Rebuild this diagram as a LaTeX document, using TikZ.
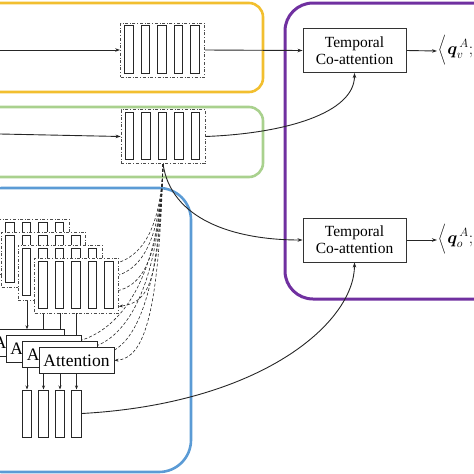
\documentclass[tikz,border=0pt]{standalone}
\usepackage{fontspec}
\setmainfont{Liberation Serif}
\usepackage{bm}
\usetikzlibrary{arrows.meta}
\pgfdeclarelayer{bg}
\pgfdeclarelayer{mid}
\pgfsetlayers{bg,mid,main}
\definecolor{ylw}{HTML}{F2BF2F}
\definecolor{grn}{HTML}{A9D18E}
\definecolor{blu}{HTML}{5B9BD5}
\definecolor{prp}{HTML}{7030A0}
\begin{document}
\begin{tikzpicture}[x=1pt,y=-1pt,
 >={Stealth[length=5pt,width=3.5pt]},
 regionframe/.style={rounded corners=#1, line width=2.6pt},
 conn/.style={line width=0.9pt, draw=black!85},
 thinconn/.style={line width=0.7pt, draw=black!85, -{Stealth[length=4pt,width=3pt]}},
 dbox/.style={draw=black!70, dash dot, line width=0.8pt, fill=white, minimum width=84pt, minimum height=54pt, inner sep=0pt},
 barr/.style={draw=black!85, line width=1pt, fill=white},
 tbox/.style={draw=black!80, line width=0.9pt, fill=white, align=center, minimum width=103pt, minimum height=44pt, inner sep=2pt, font=\fontsize{15.5}{17}\selectfont},
 abox/.style={draw=black!85, line width=0.9pt, fill=white, minimum width=75pt, minimum height=26.5pt, inner sep=0pt, font=\fontsize{17.5}{19}\selectfont},
 qtext/.style={anchor=west, inner sep=1pt, font=\fontsize{18}{20}\selectfont},
 fanline/.style={densely dashed, line width=0.6pt, draw=black!85, -{Stealth[length=4pt,width=3pt]}}
]
\useasboundingbox (0,0) rectangle (474,474);

% ---------- nodes ----------
\node[dbox] (yb) at (162.5,50) {};
\node[dbox] (gb) at (163,136.5) {};
\foreach \b in {yb,gb}
  \foreach \i in {0,...,4}
    \draw[barr] ([xshift={4.5pt+16.5pt*\i}, yshift=-3pt]\b.north west) rectangle ++(8.5,47.5);

\node[tbox] (t1) at (354.5,50.5) {Temporal\\Co-attention};
\node[tbox] (t2) at (354.5,240) {Temporal\\Co-attention};

\node[qtext] (q1) at (437,51) {$\left\langle\vphantom{\rule[-13pt]{0pt}{30pt}}\right.\!\bm{q}_{v}^{\,A};$};
\node[qtext] (q2) at (437,240) {$\left\langle\vphantom{\rule[-13pt]{0pt}{30pt}}\right.\!\bm{q}_{o}^{\,A};$};

\foreach \k in {1,...,4} {
  \node[dbox, minimum height=55pt] (m\k) at ({27+16.5*(\k-1)}, {246.5+13*(\k-1)}) {};
  \foreach \i in {0,...,4}
    \draw[barr] ([xshift={4.5pt+16.5pt*\i}, yshift=-3.5pt]m\k.north west) rectangle ++(8.5,47.5);
}

\foreach \k in {1,...,4}
  \node[abox] (a\k) at ({27+16.5*(\k-1)}, {343+5.8*(\k-1)}) {Attention};

\foreach \k/\x in {1/27,2/43.5,3/60,4/76.5}
  \node[barr, minimum width=9.5pt, minimum height=47pt, inner sep=0pt] (o\k) at (\x,413.5) {};

\coordinate (in1) at (0,50);
\coordinate (in2) at (0,134);

% ---------- frames ----------
\begin{pgfonlayer}{bg}
  \draw[regionframe=14, draw=ylw] (-30,3) rectangle (263,92);
  \draw[regionframe=14, draw=grn] (-30,107) rectangle (263,177);
  \draw[regionframe=32, draw=blu] (-30,188) rectangle (191,472);
  \draw[regionframe=28, draw=prp, line width=3pt] (285,3) rectangle (520,299);
\end{pgfonlayer}

% ---------- connectors ----------
\begin{pgfonlayer}{mid}
  \draw[conn,->] (in1) -- (yb.west);
  \draw[conn,->] (in2) -- (gb.west);
  \draw[conn,->] (yb.east) -- (t1.west);
  \draw[conn,->] (gb.east) .. controls +(80,-3) and +(0,40) .. (t1.south);
  \draw[conn,->] (gb.south) .. controls +(8,55) and +(-70,0) .. (t2.west);
  \draw[conn,->] (o4.east) .. controls +(180,-10) and +(0,60) .. (t2.south);
  \draw[conn,->] (t1.east) -- (q1.west);
  \draw[conn,->] (t2.east) -- (q2.west);

  \draw[thinconn] (a1.north |- m3.south) -- (a1.north);
  \draw[thinconn] (a2.north |- m4.south) -- (a2.north);
  \draw[thinconn] (a3.north |- m4.south) -- (a3.north);
  \draw[thinconn] (a4.north |- m4.south) -- (a4.north);
  \foreach \k in {1,...,4}
    \draw[thinconn] (a\k.south) -- (o\k.north);

  \foreach \k in {1,...,4}
    \draw[fanline] (gb.south) .. controls +(-4,120) and +(30,-4) .. ([yshift=7pt]m\k.south east);
  \foreach \k in {1,...,4}
    \draw[fanline] (gb.south) .. controls +(-4,150) and +(30,-2) .. (a\k.east);
\end{pgfonlayer}
\end{tikzpicture}
\end{document}
